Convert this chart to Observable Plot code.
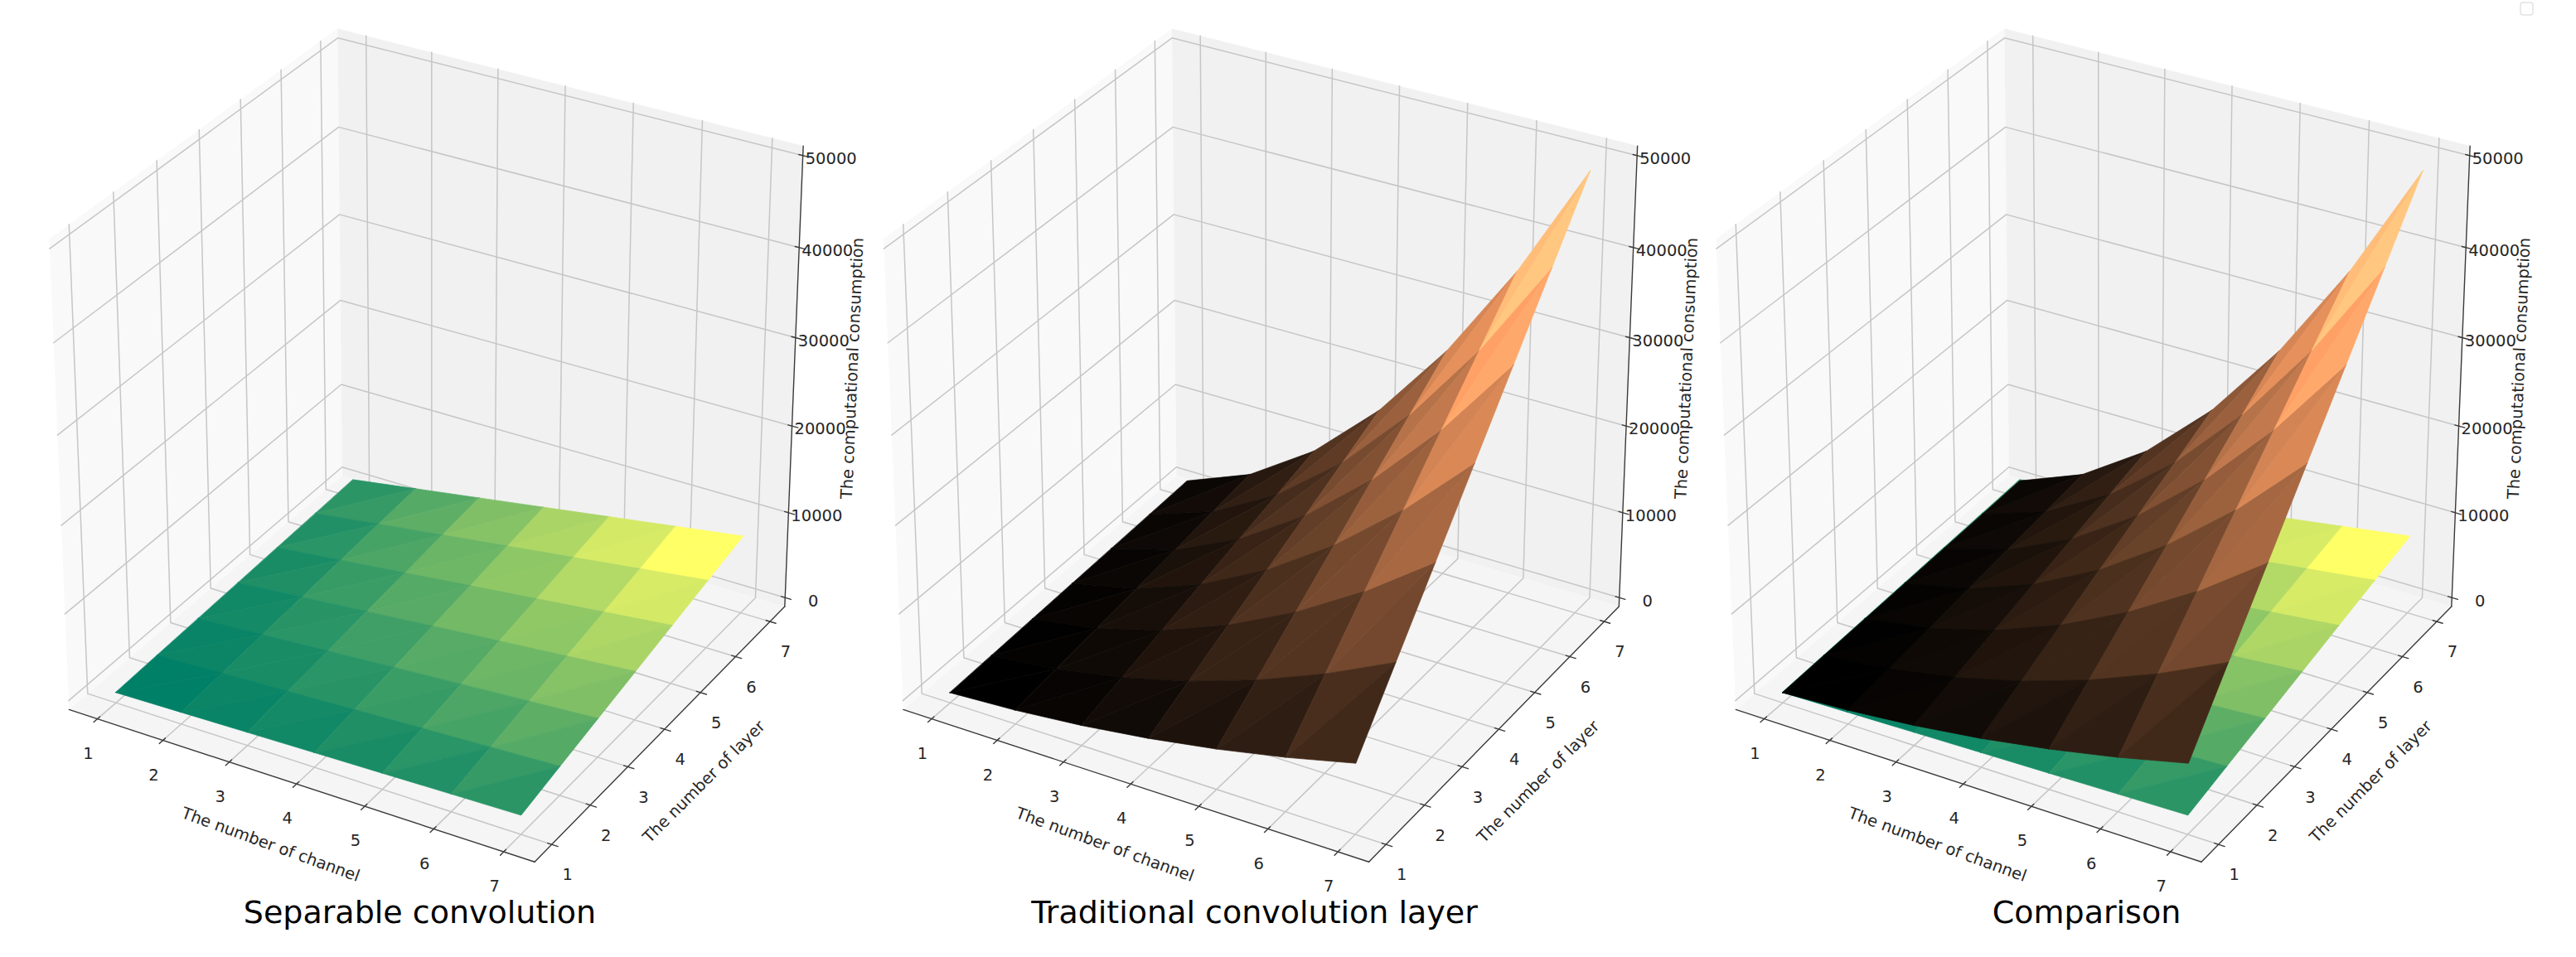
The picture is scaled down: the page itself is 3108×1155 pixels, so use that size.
<!DOCTYPE html>
<html><head><meta charset="utf-8">
<script src="https://cdn.jsdelivr.net/npm/d3@7"></script>
<script src="https://cdn.jsdelivr.net/npm/@observablehq/plot@0.6"></script>
<style>html,body{margin:0;padding:0;background:#fff}</style></head>
<body><div id="chart"></div>
<script>
const channels=[1,2,3,4,5,6,7];
const layers=[1,2,3,4,5,6,7];
const zTicks=[0,10000,20000,30000,40000,50000];
const titles=["Separable convolution","Traditional convolution layer","Comparison"];
const separable=[
[163,327,490,653,816,980,1143],
[327,653,980,1306,1633,1959,2286],
[490,980,1469,1959,2449,2939,3429],
[653,1306,1959,2612,3265,3918,4571],
[816,1633,2449,3265,4082,4898,5714],
[980,1959,2939,3918,4898,5878,6857],
[1143,2286,3429,4571,5714,6857,8000]];
const traditional=[
[143,571,1286,2286,3571,5143,7000],
[286,1143,2571,4571,7143,10286,14000],
[429,1714,3857,6857,10714,15429,21000],
[571,2286,5143,9143,14286,20571,28000],
[714,2857,6429,11429,17857,25714,35000],
[857,3429,7714,13714,21429,30857,42000],
[1000,4000,9000,16000,25000,36000,49000]];
const diag=[
[0,0,0,0,0,0],[0,0,0,0,0,0],[0,0,0,0,0,0],[0,0,0,0,0,0],[0,0,0,0,0,0],[0,0,0,0,0,0]];
const panelOffsets=[0,1006.5,2011];
// mplot3d default camera
const el=30*Math.PI/180,az=-60*Math.PI/180,dist=10,S=6225,OX=521.5,OY=519;
const n=[Math.cos(el)*Math.cos(az),Math.cos(el)*Math.sin(az),Math.sin(el)];
const un=Math.hypot(n[1],n[0]);const u=[-n[1]/un,n[0]/un,0];
const v=[n[1]*u[2]-n[2]*u[1],n[2]*u[0]-n[0]*u[2],n[0]*u[1]-n[1]*u[0]];
const dot=(a,b)=>a[0]*b[0]+a[1]*b[1]+a[2]*b[2];
const nc=c=>(c-.7)/6.6-.5, nz=z=>z/50000-.5;
function proj(c,l,z,off){const q=[nc(c),nc(l),nz(z)];const d=dist-dot(n,q);
  return {x:off+OX+S*dot(u,q)/d,y:OY-S*dot(v,q)/d,d};}
const cLo=.5625,cHi=7.4375,zLo=-1041.67,zHi=51041.67;
const summer=t=>`rgb(${255*t},${255*(.5+.5*t)},102)`;
const copper=t=>`rgb(${255*Math.min(1,1.25*t)},${255*.7812*t},${255*.4975*t})`;
let uid=0;
function surface(vals,cmap,off){
  const tris=[];
  for(let j=0;j<6;j++)for(let i=0;i<6;i++){
    const a=[i,j],b=[i+1,j],c=[i+1,j+1],e=[i,j+1];
    if(diag[j][i]===0){tris.push([a,b,c],[a,c,e]);}else{tris.push([a,b,e],[b,c,e]);}
  }
  const avg=t=>d3.mean(t,p=>vals[p[1]][p[0]]);
  const [lo,hi]=d3.extent(tris,avg);
  const items=tris.map(t=>{const pts=t.map(p=>proj(channels[p[0]],layers[p[1]],vals[p[1]][p[0]],off));
    return {pts,col:cmap((avg(t)-lo)/(hi-lo)),depth:d3.mean(pts,p=>p.d)};});
  items.sort((a,b)=>b.depth-a.depth);
  const rows=[];
  for(const it of items){const id=uid++;for(const p of it.pts)rows.push({id,x:p.x,y:p.y,col:it.col});}
  return Plot.line(rows,{x:"x",y:"y",z:"id",fill:"col",stroke:"col",strokeWidth:.7,curve:"linear-closed"});
}
function polyRows(list,off){const rows=[];for(const [pts,col] of list){const id=uid++;for(const p of pts){const q=proj(p[0],p[1],p[2],off);rows.push({id,x:q.x,y:q.y,col});}}return rows;}
function frame(off){
  const panes=polyRows([
   [[[cLo,cLo,zLo],[cHi,cLo,zLo],[cHi,cHi,zLo],[cLo,cHi,zLo]],"#f5f5f5"],
   [[[cLo,cLo,zLo],[cLo,cHi,zLo],[cLo,cHi,zHi],[cLo,cLo,zHi]],"#f9f9f9"],
   [[[cLo,cHi,zLo],[cHi,cHi,zLo],[cHi,cHi,zHi],[cLo,cHi,zHi]],"#f1f1f1"]],off);
  const g=[];
  for(const c of channels)g.push([[[c,cLo,zLo],[c,cHi,zLo],[c,cHi,zHi]],"g"]);
  for(const l of layers)g.push([[[cHi,l,zLo],[cLo,l,zLo],[cLo,l,zHi]],"g"]);
  for(const z of zTicks)g.push([[[cLo,cLo,z],[cLo,cHi,z],[cHi,cHi,z]],"g"]);
  const axes=[[[[cLo,cLo,zLo],[cHi,cLo,zLo]],"a"],[[[cHi,cLo,zLo],[cHi,cHi,zLo]],"a"],[[[cHi,cHi,zLo],[cHi,cHi,zHi]],"a"]];
  const tk=.0132*6.6,tk2=.0088*6.6,tz=.0132*6.6,tz2=.0088*6.6;
  for(const c of channels)axes.push([[[c,cLo-tk,zLo],[c,cLo+tk2,zLo]],"a"]);
  for(const l of layers)axes.push([[[cHi+tk,l,zLo],[cHi-tk2,l,zLo]],"a"]);
  for(const z of zTicks)axes.push([[[cHi+tz,cHi,z],[cHi-tz2,cHi,z]],"a"]);
  const P=(c,l,z)=>proj(c,l,z,off);
  return [
   Plot.line(panes,{x:"x",y:"y",z:"id",fill:"col",stroke:null,curve:"linear-closed"}),
   Plot.line(polyRows(g,off),{x:"x",y:"y",z:"id",stroke:"#c6c6c6",strokeWidth:1.5,curve:"linear"}),
   Plot.line(polyRows(axes,off),{x:"x",y:"y",z:"id",stroke:"#3a3a3a",strokeWidth:1.4,curve:"linear"}),
   Plot.text(channels,{x:c=>P(c,cLo,zLo).x-11,y:c=>P(c,cLo,zLo).y+42,text:c=>String(c),fontSize:19.5,fill:"#262626",fontFamily:"DejaVu Sans"}),
   Plot.text(layers,{x:l=>P(cHi,l,zLo).x+19,y:l=>P(cHi,l,zLo).y+37,text:l=>String(l),fontSize:19.5,fill:"#262626",fontFamily:"DejaVu Sans"}),
   Plot.text(zTicks,{x:z=>P(cHi,cHi,z).x+34,y:z=>P(cHi,cHi,z).y+4,text:z=>String(z),fontSize:19.5,fill:"#262626",fontFamily:"DejaVu Sans"}),
   Plot.text(["The number of channel"],{x:()=>326+off,y:()=>1019,text:d=>d,rotate:20,fontSize:19.5,fill:"#262626",fontFamily:"DejaVu Sans"}),
   Plot.text(["The number of layer"],{x:()=>849+off,y:()=>943,text:d=>d,rotate:-45,fontSize:19.5,fill:"#262626",fontFamily:"DejaVu Sans"}),
   Plot.text(["The computational consumption"],{x:()=>1028+off,y:()=>444,text:d=>d,rotate:-87.5,fontSize:19.5,fill:"#262626",fontFamily:"DejaVu Sans"})
  ];
}
const titleX=[506,1513,2517];
const debug=[];
for(const j of [0,1,2,3,4,5,6])for(const i of [0,1,2,3,4,5,6]){debug.push({i,j});}
const chart=Plot.plot({width:3108,height:1155,margin:0,
 x:{domain:[0,3108],range:[0,3108],axis:null},y:{domain:[0,1155],range:[0,1155],axis:null},
 color:{type:"identity"},style:{background:"#fff"},
 marks:[
  ...frame(panelOffsets[0]),surface(separable,summer,panelOffsets[0]),
  ...frame(panelOffsets[1]),surface(traditional,copper,panelOffsets[1]),
  ...frame(panelOffsets[2]),surface(separable,summer,panelOffsets[2]),surface(traditional,copper,panelOffsets[2]),
  Plot.text(titles,{x:(d,i)=>titleX[i],y:()=>1101,text:d=>d,fontSize:38,fill:"#000",fontFamily:"DejaVu Sans"}),
  Plot.rect([0],{x1:()=>3041,x2:()=>3056,y1:()=>3,y2:()=>18,fill:"#fff",stroke:"#e2e2e2",strokeWidth:1.5,rx:3})
 ]});
document.getElementById("chart").append(chart);
</script></body></html>
